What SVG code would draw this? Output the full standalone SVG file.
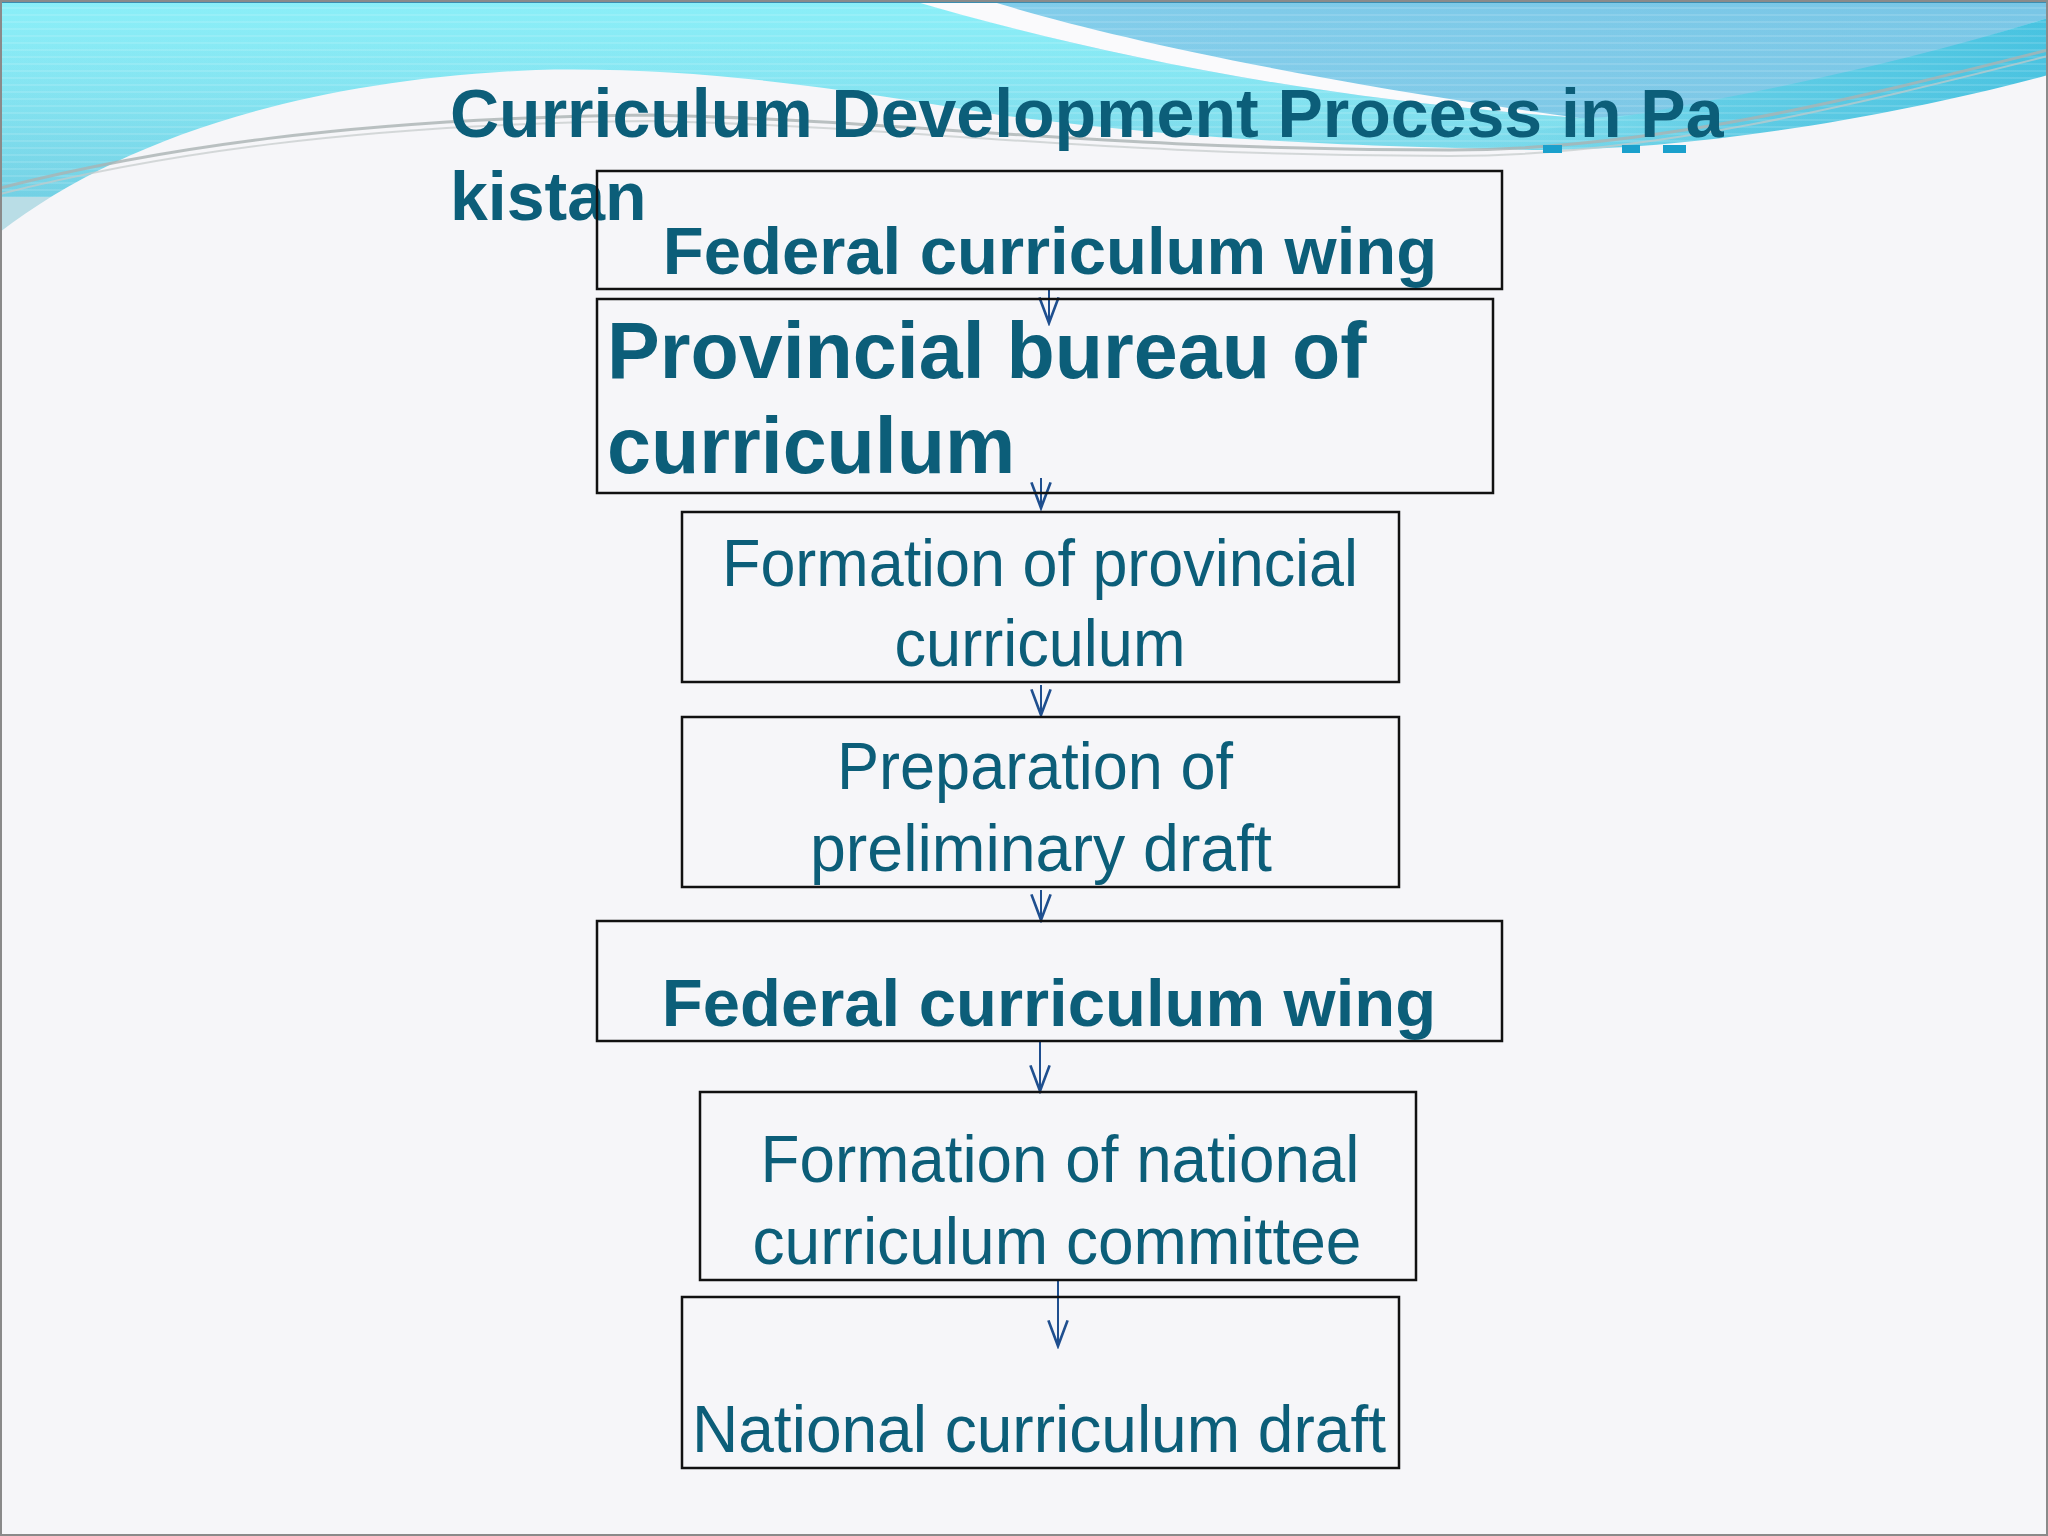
<svg xmlns="http://www.w3.org/2000/svg" width="2048" height="1536" viewBox="0 0 2048 1536">
<defs>
<linearGradient id="gBlue" x1="0" y1="0" x2="1" y2="0">
<stop offset="0" stop-color="#8ad3ee"/><stop offset="1" stop-color="#78c6e6"/>
</linearGradient>
<linearGradient id="gCyan" x1="0" y1="0" x2="0" y2="1">
<stop offset="0" stop-color="#8aeff8"/><stop offset="1" stop-color="#74d4e8"/>
</linearGradient>
<linearGradient id="gWedge" x1="0" y1="0" x2="1" y2="0">
<stop offset="0" stop-color="#7fe0f0" stop-opacity="0"/><stop offset="0.5" stop-color="#5ccde6"/><stop offset="1" stop-color="#45c2e0"/>
</linearGradient>
<linearGradient id="gShade" x1="0" y1="0" x2="0" y2="1">
<stop offset="0" stop-color="#ffffff" stop-opacity="0"/><stop offset="1" stop-color="#2a7fa8" stop-opacity="0.15"/>
</linearGradient>
<pattern id="stripes" width="8" height="7" patternUnits="userSpaceOnUse">
<rect width="8" height="2" fill="#ffffff" opacity="0.12"/>
</pattern>
<marker id="v" markerUnits="userSpaceOnUse" markerWidth="32" markerHeight="32" viewBox="-3 -13 30 26" refX="24" refY="0" orient="auto">
<path d="M0,-9 L24,0 L0,9" fill="none" stroke="#1f4f8f" stroke-width="2.5"/>
</marker>
<style>
.box{fill:none;stroke:#111;stroke-width:2.5}
.t{fill:#0c5e79;font-family:"Liberation Sans",Arial,sans-serif}
.b{font-weight:bold}
.r{font-weight:normal;font-size:66px}
.c{stroke:#1f4f8f;stroke-width:2;fill:none;marker-end:url(#v)}
</style>
</defs>
<rect width="2048" height="1536" fill="#f6f6f9"/>
<g id="header">
<rect x="0" y="0" width="2048" height="240" fill="url(#gBlue)"/>
<path d="M0,0 H912 C1080,50 1300,98 1580,118 C1700,115 1850,80 2048,18 V240 H0 Z" fill="url(#gCyan)"/>
<path d="M1400,150 C1600,125 1850,80 2048,18 V240 H1400 Z" fill="url(#gWedge)"/>
<rect x="0" y="0" width="2048" height="240" fill="url(#gShade)"/>
<rect x="0" y="0" width="2048" height="240" fill="url(#stripes)"/>
<rect x="0" y="197" width="140" height="45" fill="#b9dde6"/>
<path d="M910,0 L987,0 C1100,35 1300,80 1580,118 C1300,98 1080,50 910,0 Z" fill="#fafafc"/>
<path d="M0,232 C120,140 300,80 536,70 C700,66 850,90 1000,115 C1150,135 1300,146 1540,150 C1700,150 1900,115 2048,75 V1536 H0 Z" fill="#f6f6f9"/>
<path d="M0,188 C150,150 350,118 650,115 C900,120 1100,150 1450,150 C1650,150 1850,100 2048,50" fill="none" stroke="#aab3b3" stroke-width="3" opacity="0.8"/>
<path d="M0,194 C150,156 350,124 650,121 C900,126 1100,156 1450,156 C1650,156 1850,106 2048,56" fill="none" stroke="#c4cbcb" stroke-width="2" opacity="0.7"/>
<rect x="0" y="0" width="2048" height="3" fill="#3b8db0"/>
</g>
<g id="title">
<text class="t b" x="450" y="137" font-size="68">Curriculum Development Process in Pa</text>
<text class="t b" x="450" y="220" font-size="68">kistan</text>
<rect x="1543" y="145" width="19" height="8" fill="#1aa0cc"/>
<rect x="1622" y="145" width="18" height="8" fill="#1aa0cc"/>
<rect x="1663" y="145" width="23" height="8" fill="#1aa0cc"/>
</g>
<g id="connectors">
<line class="c" x1="1049" y1="289" x2="1049" y2="323"/>
<line class="c" x1="1041" y1="478" x2="1041" y2="508"/>
<line class="c" x1="1041" y1="685" x2="1041" y2="715"/>
<line class="c" x1="1041" y1="890" x2="1041" y2="920"/>
<line class="c" x1="1040" y1="1041" x2="1040" y2="1091"/>
<line class="c" x1="1058" y1="1280" x2="1058" y2="1346"/>
</g>
<g id="node1">
<rect class="box" x="597" y="171" width="905" height="118"/>
<text class="t b" x="1050" y="274" font-size="67" text-anchor="middle">Federal curriculum wing</text>
</g>
<g id="node2">
<rect class="box" x="597" y="299" width="896" height="194"/>
<text class="t b" x="607" y="378" font-size="79">Provincial bureau of</text>
<text class="t b" x="607" y="473" font-size="79">curriculum</text>
</g>
<g id="node3">
<rect class="box" x="682" y="512" width="717" height="170"/>
<text class="t r" x="1040" y="586" text-anchor="middle" textLength="636" lengthAdjust="spacingAndGlyphs">Formation of provincial</text>
<text class="t r" x="1040" y="666" text-anchor="middle" textLength="291" lengthAdjust="spacingAndGlyphs">curriculum</text>
</g>
<g id="node4">
<rect class="box" x="682" y="717" width="717" height="170"/>
<text class="t r" x="1035" y="789" text-anchor="middle" textLength="396" lengthAdjust="spacingAndGlyphs">Preparation of</text>
<text class="t r" x="1041" y="871" text-anchor="middle" textLength="462" lengthAdjust="spacingAndGlyphs">preliminary draft</text>
</g>
<g id="node5">
<rect class="box" x="597" y="921" width="905" height="120"/>
<text class="t b" x="1049" y="1026" font-size="67" text-anchor="middle">Federal curriculum wing</text>
</g>
<g id="node6">
<rect class="box" x="700" y="1092" width="716" height="188"/>
<text class="t r" x="1060" y="1182" text-anchor="middle" textLength="599" lengthAdjust="spacingAndGlyphs">Formation of national</text>
<text class="t r" x="1057" y="1264" text-anchor="middle" textLength="609" lengthAdjust="spacingAndGlyphs">curriculum committee</text>
</g>
<g id="node7">
<rect class="box" x="682" y="1297" width="717" height="171"/>
<text class="t r" x="1039" y="1452" text-anchor="middle" textLength="694" lengthAdjust="spacingAndGlyphs">National curriculum draft</text>
</g>
<rect x="1" y="1" width="2046" height="1534" fill="none" stroke="#8a8a8a" stroke-width="2"/>
</svg>
